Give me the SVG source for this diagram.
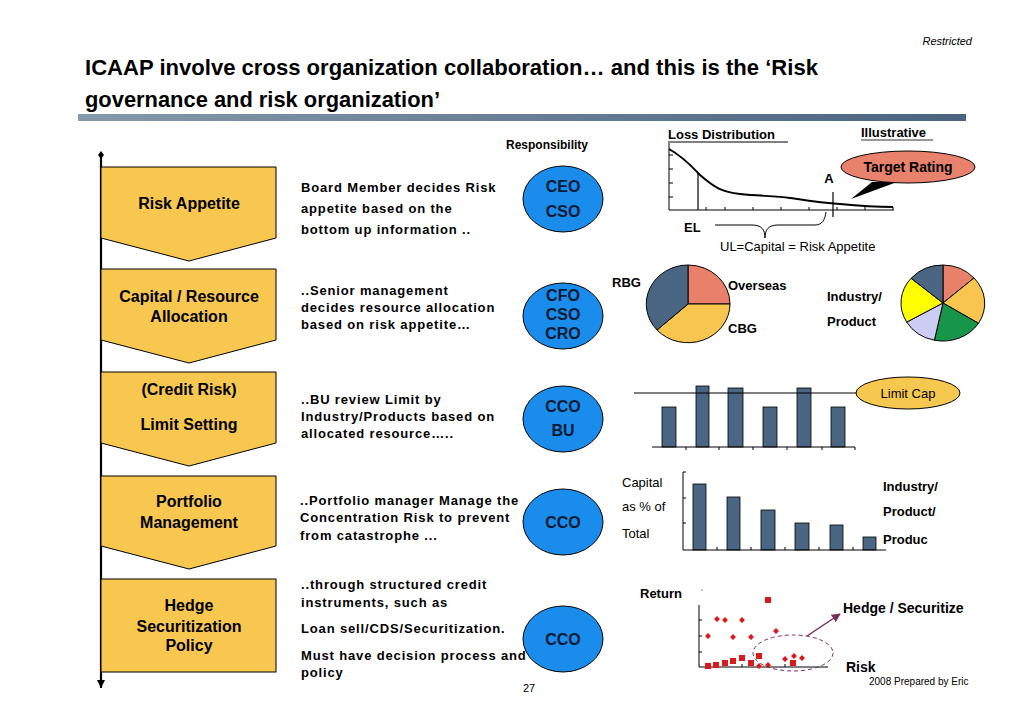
<svg xmlns="http://www.w3.org/2000/svg" width="1030" height="728" viewBox="0 0 1030 728">
<defs>
<linearGradient id="hdr" x1="0" y1="0" x2="1" y2="0">
<stop offset="0" stop-color="#8599AC"/>
<stop offset="1" stop-color="#4A6380"/>
</linearGradient>
<marker id="dn" viewBox="0 0 10 10" refX="10" refY="5" markerWidth="9" markerHeight="8" orient="auto" markerUnits="userSpaceOnUse">
<path d="M0,0 L10,5 L0,10 Z" fill="#000"/>
</marker>
<marker id="pa" viewBox="0 0 10 10" refX="9" refY="5" markerWidth="9" markerHeight="9" orient="auto" markerUnits="userSpaceOnUse">
<path d="M0,0 L10,5 L0,10 Z" fill="#7B2D5A"/>
</marker>
<style>
text{font-family:"Liberation Sans",Arial,sans-serif;fill:#000}
.b{font-weight:bold}
.chev{fill:#F8C750;stroke:#000;stroke-width:1}
.ct{font-size:16px;font-weight:bold;text-anchor:middle}
.mt{font-size:13px;font-weight:bold;letter-spacing:0.85px}
.ell{fill:#1A8CEB;stroke:#000;stroke-width:1}
.et{font-size:16px;font-weight:bold;text-anchor:middle;fill:#0A1A33}
.bar{fill:#4A6682;stroke:#000;stroke-width:0.8}
.ax{stroke:#000;stroke-width:1;fill:none}
.lbl{font-size:13px;font-weight:bold}
.reg{font-size:13px}
</style>
</defs>
<rect width="1030" height="728" fill="#fff"/>

<!-- header -->
<g id="header">
<text x="972" y="45" font-size="11" font-style="italic" text-anchor="end">Restricted</text>
<text x="85" y="75" font-size="22" class="b" textLength="733" lengthAdjust="spacingAndGlyphs">ICAAP involve cross organization collaboration… and this is the ‘Risk</text>
<text x="85" y="107" font-size="22" class="b" textLength="355" lengthAdjust="spacingAndGlyphs">governance and risk organization’</text>
<rect x="78" y="114" width="888" height="7" fill="url(#hdr)"/>
<text x="506" y="149" font-size="12" class="b">Responsibility</text>
</g>

<!-- connectors -->
<g id="connectors">
<line x1="101" y1="155" x2="101" y2="688" stroke="#000" stroke-width="2.2" marker-end="url(#dn)"/>
<path d="M101,151 L104,155 L101,159 L98,155 Z" fill="#000"/>
<line x1="807" y1="636" x2="840" y2="614" stroke="#7B2D5A" stroke-width="1.5" marker-end="url(#pa)"/>
</g>

<!-- chevrons -->
<g id="step-risk-appetite">
<path class="chev" d="M101,167 H276 V238 L189,261 L101,238 Z"/>
<text class="ct" x="189" y="209">Risk Appetite</text>
</g>
<g id="step-capital">
<path class="chev" d="M101,269 H276 V340 L189,363 L101,340 Z"/>
<text class="ct" x="189" y="302">Capital / Resource</text>
<text class="ct" x="189" y="322">Allocation</text>
</g>
<g id="step-limit">
<path class="chev" d="M101,372 H276 V443 L189,466 L101,443 Z"/>
<text class="ct" x="189" y="395">(Credit Risk)</text>
<text class="ct" x="189" y="430">Limit Setting</text>
</g>
<g id="step-portfolio">
<path class="chev" d="M101,476 H276 V546 L189,569 L101,546 Z"/>
<text class="ct" x="189" y="507">Portfolio</text>
<text class="ct" x="189" y="528">Management</text>
</g>
<g id="step-hedge">
<rect class="chev" x="101" y="579" width="175" height="93"/>
<text class="ct" x="189" y="611">Hedge</text>
<text class="ct" x="189" y="632">Securitization</text>
<text class="ct" x="189" y="651">Policy</text>
</g>

<!-- descriptions -->
<g id="desc-1">
<text class="mt" x="301" y="192">Board Member decides Risk</text>
<text class="mt" x="301" y="213">appetite based on the</text>
<text class="mt" x="301" y="234">bottom up information ..</text>
</g>
<g id="desc-2">
<text class="mt" x="301" y="295">..Senior management</text>
<text class="mt" x="301" y="312">decides resource allocation</text>
<text class="mt" x="301" y="329">based on risk appetite…</text>
</g>
<g id="desc-3">
<text class="mt" x="301" y="404">..BU review Limit by</text>
<text class="mt" x="301" y="421">Industry/Products based on</text>
<text class="mt" x="301" y="438">allocated resource…..</text>
</g>
<g id="desc-4">
<text class="mt" x="300" y="505">..Portfolio manager Manage the</text>
<text class="mt" x="300" y="522">Concentration Risk to prevent</text>
<text class="mt" x="300" y="540">from catastrophe ...</text>
</g>
<g id="desc-5">
<text class="mt" x="301" y="589">..through structured credit</text>
<text class="mt" x="301" y="607">instruments, such as</text>
<text class="mt" x="301" y="633">Loan sell/CDS/Securitization.</text>
<text class="mt" x="301" y="660">Must have decision process and</text>
<text class="mt" x="301" y="677">policy</text>
</g>

<!-- responsibility ellipses -->
<g id="resp-1">
<ellipse class="ell" cx="563" cy="199" rx="40" ry="33"/>
<text class="et" x="563" y="192">CEO</text>
<text class="et" x="563" y="217">CSO</text>
</g>
<g id="resp-2">
<ellipse class="ell" cx="563" cy="316" rx="40" ry="33"/>
<text class="et" x="563" y="301">CFO</text>
<text class="et" x="563" y="320">CSO</text>
<text class="et" x="563" y="339">CRO</text>
</g>
<g id="resp-3">
<ellipse class="ell" cx="563" cy="419" rx="40" ry="33"/>
<text class="et" x="563" y="412">CCO</text>
<text class="et" x="563" y="436">BU</text>
</g>
<g id="resp-4">
<ellipse class="ell" cx="563" cy="522" rx="40" ry="33"/>
<text class="et" x="563" y="528">CCO</text>
</g>
<g id="resp-5">
<ellipse class="ell" cx="563" cy="639" rx="40" ry="33"/>
<text class="et" x="563" y="645">CCO</text>
</g>
<text x="523" y="692" font-size="11">27</text>

<!-- loss distribution -->
<g id="loss-distribution">
<text x="668" y="139" font-size="13" class="b">Loss Distribution</text>
<line x1="668" y1="142" x2="788" y2="142" stroke="#000" stroke-width="1"/>
<text x="861" y="137" font-size="13" class="b">Illustrative</text>
<line x1="861" y1="140" x2="933" y2="140" stroke="#999" stroke-width="2"/>
<path class="ax" d="M669,143 V210 H894"/>
<path class="ax" d="M669,155 h4 M669,169 h4 M669,183 h4 M669,197 h4 M706,210 v-3 M725,210 v-3 M753,210 v-3 M781,210 v-3 M809,210 v-3 M837,210 v-3 M865,210 v-3 M893,210 v-3"/>
<path d="M669,149 C685,158 693,168 700,175 C715,188 722,192 740,194 C760,196 775,196 790,198 C810,201 822,203 840,204 C860,206 875,207 893,207" fill="none" stroke="#000" stroke-width="2"/>
<line x1="698" y1="173" x2="698" y2="210" stroke="#000" stroke-width="1.2"/>
<line x1="833" y1="192" x2="833" y2="217" stroke="#000" stroke-width="1.2"/>
<text x="829" y="183" font-size="13" class="b" text-anchor="middle">A</text>
<text x="684" y="232" font-size="13" class="b">EL</text>
<path d="M715,225 H752 C762,225 765,230 765,238 C765,230 768,225 778,225 H815 C822,225 825,220 826,212" fill="none" stroke="#000" stroke-width="1"/>
<text x="720" y="251" font-size="13">UL=Capital = Risk Appetite</text>
<polygon points="851,199 872,182 897,182" fill="#000"/>
<ellipse cx="908" cy="167" rx="67" ry="16" fill="#E8826C" stroke="#000" stroke-width="1"/>
<text x="908" y="172" font-size="14" class="b" text-anchor="middle">Target Rating</text>
</g>

<!-- pies -->
<g id="pie-business">
<path d="M688,304 L688,265 A42,39 0 0 1 730,304 Z" fill="#E8806A" stroke="#000" stroke-width="1"/>
<path d="M688,304 L730,304 A42,39 0 0 1 657,330 Z" fill="#F8C64E" stroke="#000" stroke-width="1"/>
<path d="M688,304 L657,330 A42,39 0 0 1 688,265 Z" fill="#4A6682" stroke="#000" stroke-width="1"/>
<text x="612" y="287" font-size="13" class="b">RBG</text>
<text x="728" y="290" font-size="13" class="b">Overseas</text>
<text x="728" y="333" font-size="13" class="b">CBG</text>
</g>
<g id="pie-industry">
<path d="M943,303 L943,265 A42,38 0 0 1 974,278 Z" fill="#E8806A" stroke="#000" stroke-width="1"/>
<path d="M943,303 L974,278 A42,38 0 0 1 978.5,323.3 Z" fill="#F8C64E" stroke="#000" stroke-width="1"/>
<path d="M943,303 L978.5,323.3 A42,38 0 0 1 934.4,340.2 Z" fill="#17964A" stroke="#000" stroke-width="1"/>
<path d="M943,303 L934.4,340.2 A42,38 0 0 1 906.7,322.1 Z" fill="#CCCCF5" stroke="#000" stroke-width="1"/>
<path d="M943,303 L906.7,322.1 A42,38 0 0 1 911.1,278.3 Z" fill="#FFFF00" stroke="#000" stroke-width="1"/>
<path d="M943,303 L911.1,278.3 A42,38 0 0 1 943,265 Z" fill="#4A6682" stroke="#000" stroke-width="1"/>
<text x="827" y="301" font-size="13" class="b">Industry/</text>
<text x="827" y="326" font-size="13" class="b">Product</text>
</g>

<!-- limit bar chart -->
<g id="bar-limit">
<rect class="bar" x="662" y="407" width="14" height="40"/>
<rect class="bar" x="696" y="386" width="13" height="61"/>
<rect class="bar" x="728" y="388" width="15" height="59"/>
<rect class="bar" x="763" y="407" width="14" height="40"/>
<rect class="bar" x="797" y="388" width="14" height="59"/>
<rect class="bar" x="831" y="407" width="14" height="40"/>
<path class="ax" d="M652,447 H855 M686,447 v3 M719,447 v3 M753,447 v3 M787,447 v3 M822,447 v3 M855,447 v3"/>
<line x1="634" y1="393" x2="858" y2="393" stroke="#000" stroke-width="1"/>
<ellipse cx="908" cy="393" rx="52" ry="16" fill="#F7C84F" stroke="#000" stroke-width="1"/>
<text x="908" y="398" font-size="13" text-anchor="middle">Limit Cap</text>
</g>

<!-- concentration bar chart -->
<g id="bar-concentration">
<rect class="bar" x="693" y="484" width="13" height="66"/>
<rect class="bar" x="727" y="497" width="13" height="53"/>
<rect class="bar" x="761" y="510" width="14" height="40"/>
<rect class="bar" x="795" y="523" width="14" height="27"/>
<rect class="bar" x="830" y="525" width="13" height="25"/>
<rect class="bar" x="863" y="537" width="13" height="13"/>
<path class="ax" d="M683,472 V550 H886 M683,472 h3 M683,498 h3 M683,523 h3 M717,550 v-3 M751,550 v-3 M785,550 v-3 M819,550 v-3 M853,550 v-3"/>
<text class="reg" x="622" y="487">Capital</text>
<text class="reg" x="622" y="511">as % of</text>
<text class="reg" x="622" y="538">Total</text>
<text class="lbl" x="883" y="491">Industry/</text>
<text class="lbl" x="883" y="516">Product/</text>
<text class="lbl" x="883" y="544">Produc</text>
</g>

<!-- scatter -->
<g id="scatter">
<text class="lbl" x="640" y="598">Return</text>
<path class="ax" d="M699,605 V667 H828 M699,620 h3 M699,636 h3 M699,652 h3 M742,667 v-3 M785,667 v-3"/>
<circle cx="702" cy="590" r="0.6" fill="#000"/>
<g fill="#D91A1A">
<rect x="765" y="597" width="6" height="6"/>
<rect x="705" y="663" width="6" height="6"/>
<rect x="713" y="662" width="6" height="6"/>
<rect x="722" y="660" width="6" height="6"/>
<rect x="730" y="658" width="6" height="6"/>
<rect x="739" y="655" width="6" height="6"/>
<rect x="748" y="660" width="6" height="6"/>
<rect x="756" y="653" width="6" height="6"/>
<rect x="790" y="660" width="6" height="6"/>
<path d="M717,616 l3,3 l-3,3 l-3,-3 Z M725,617 l3,3 l-3,3 l-3,-3 Z M742,617 l3,3 l-3,3 l-3,-3 Z M708,633 l3,3 l-3,3 l-3,-3 Z M733,634 l3,3 l-3,3 l-3,-3 Z M751,634 l3,3 l-3,3 l-3,-3 Z M776,628 l3,3 l-3,3 l-3,-3 Z M759,663 l3,3 l-3,3 l-3,-3 Z M768,662 l3,3 l-3,3 l-3,-3 Z M785,656 l3,3 l-3,3 l-3,-3 Z M794,653 l3,3 l-3,3 l-3,-3 Z M802,655 l3,3 l-3,3 l-3,-3 Z"/>
</g>
<ellipse cx="793" cy="653" rx="40" ry="18" fill="none" stroke="#7B2D5A" stroke-width="1" stroke-dasharray="4,3"/>
<text x="843" y="613" font-size="14" class="b">Hedge / Securitize</text>
<text x="846" y="672" font-size="14" class="b">Risk</text>
<text x="869" y="685" font-size="10">2008 Prepared by Eric</text>
</g>
</svg>
